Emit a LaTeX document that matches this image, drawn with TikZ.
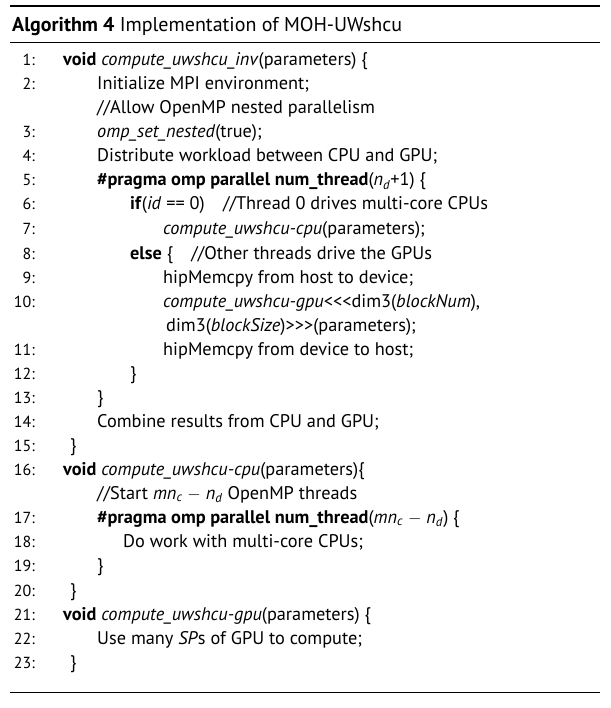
\documentclass[tikz,border=0pt]{standalone}
\usepackage{fontspec}
\setmainfont{PT Sans}
\begin{document}
\begin{tikzpicture}[x=1pt,y=-1pt,
  t/.style={anchor=base west,inner sep=0pt,font=\fontsize{18.3}{20}\selectfont},
  n/.style={anchor=base east,inner sep=0pt,font=\fontsize{16}{18}\selectfont}]
\useasboundingbox (0,0) rectangle (610,708);
\draw[line width=1.4pt] (10,6) -- (600,6);
\draw[line width=0.6pt] (10,42) -- (600,42);
\draw[line width=0.6pt] (10,692) -- (600,692);
\node[t,font=\fontsize{20}{22}\selectfont] (title) at (12,32) {\textbf{Algorithm 4} Implementation of MOH-UWshcu};
\def\L#1#2#3#4{\node[n] (n#1) at (35,#2) {#1}; \node[t] (c#1) at (#3,#2) {#4};}
\def\C#1#2#3#4{\node[t] (#1) at (#3,#2) {#4};}
\L{1:}{66}{63}{\textbf{void} \textit{compute\_uwshcu\_inv}(parameters) \{}
\L{2:}{90}{97}{Initialize MPI environment;}
\C{k1}{114}{97}{//Allow OpenMP nested parallelism}
\L{3:}{138}{97}{\textit{omp\_set\_nested}(true);}
\L{4:}{162}{97}{Distribute workload between CPU and GPU;}
\L{5:}{186}{97}{\textbf{\#pragma omp parallel num\_thread}(\textit{n}\textsubscript{\textit{d}}+1) \{}
\L{6:}{210}{130}{\textbf{if}(\textit{id} == 0)\quad //Thread 0 drives multi-core CPUs}
\L{7:}{235}{163}{\textit{compute\_uwshcu-cpu}(parameters);}
\L{8:}{259}{130}{\textbf{else} \{\quad //Other threads drive the GPUs}
\L{9:}{283}{163}{hipMemcpy from host to device;}
\L{10:}{307}{163}{\textit{compute\_uwshcu-gpu}<{}<{}<dim3(\textit{blockNum}),}
\C{k2}{331}{166}{dim3(\textit{blockSize})>{}>{}>(parameters);}
\L{11:}{355}{163}{hipMemcpy from device to host;}
\L{12:}{379}{130}{\}}
\L{13:}{403}{97}{\}}
\L{14:}{427}{97}{Combine results from CPU and GPU;}
\L{15:}{451}{70}{\}}
\L{16:}{475}{63}{\textbf{void} \textit{compute\_uwshcu-cpu}(parameters)\{}
\C{k3}{499}{97}{//Start \textit{mn}\textsubscript{\textit{c}} $-$ \textit{n}\textsubscript{\textit{d}} OpenMP threads}
\L{17:}{523}{97}{\textbf{\#pragma omp parallel num\_thread}(\textit{mn}\textsubscript{\textit{c}} $-$ \textit{n}\textsubscript{\textit{d}}) \{}
\L{18:}{547}{123}{Do work with multi-core CPUs;}
\L{19:}{571}{97}{\}}
\L{20:}{596}{70}{\}}
\L{21:}{620}{63}{\textbf{void} \textit{compute\_uwshcu-gpu}(parameters) \{}
\L{22:}{644}{97}{Use many \textit{SP}s of GPU to compute;}
\L{23:}{668}{70}{\}}
\end{tikzpicture}
\end{document}
